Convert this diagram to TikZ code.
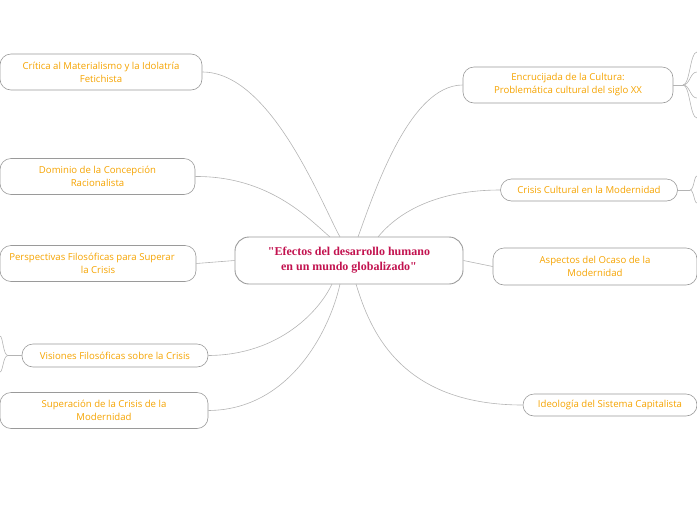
\documentclass[tikz,border=0pt]{standalone}
\usepackage{fontspec}
\setmainfont{Open Sans}
\newfontfamily\ctrfont{Liberation Serif}
\definecolor{orng}{HTML}{F5A300}
\definecolor{crim}{HTML}{C2124F}
\definecolor{bord}{HTML}{9A9A9A}
\definecolor{lnk}{HTML}{B4B4B4}
\begin{document}
\begin{tikzpicture}[x=1pt,y=-1pt,
  child/.style={draw=bord,rounded corners=11pt,font=\fontsize{9.6}{13}\selectfont,text=orng,align=center,line width=0.6pt,inner sep=0pt},
  link/.style={draw=lnk,line width=0.6pt}]
\useasboundingbox (0,0) rectangle (697,520);
\node[draw=bord,line width=0.9pt,rounded corners=14pt,minimum width=228pt,minimum height=47pt,align=center,font=\ctrfont\bfseries\fontsize{12}{15}\selectfont,text=crim] (c) at (349,260.5) {"Efectos del desarrollo humano\\en un mundo globalizado"};
\node[child,minimum width=202pt,minimum height=36pt] (a1) at (101,72) {Crítica al Materialismo y la Idolatría\\Fetichista};
\node[child,minimum width=195pt,minimum height=36pt] (a2) at (97.5,176.5) {Dominio de la Concepción\\Racionalista};
\node[child,minimum width=196pt,minimum height=36pt] (a3) at (98,263.5) {\hspace*{-12pt}Perspectivas Filosóficas para Superar\\la Crisis};
\node[child,minimum width=186pt,minimum height=23pt] (a4) at (115,355.5) {Visiones Filosóficas sobre la Crisis};
\node[child,minimum width=208pt,minimum height=36pt] (a5) at (104,410.5) {Superación de la Crisis de la\\Modernidad};
\node[child,minimum width=210pt,minimum height=36pt] (b1) at (568,85) {Encrucijada de la Cultura:\\Problemática cultural del siglo XX};
\node[child,minimum width=177pt,minimum height=22pt] (b2) at (589,190) {Crisis Cultural en la Modernidad};
\node[child,minimum width=204pt,minimum height=37pt] (b3) at (595,266.5) {Aspectos del Ocaso de la\\Modernidad};
\node[child,minimum width=174pt,minimum height=22pt] (b4) at (610,405) {Ideología del Sistema Capitalista};
\coordinate (t) at (340,237);
\coordinate (tr) at (358,237);
\coordinate (bt) at (340,284);
\coordinate (br) at (356,284);
\draw[link] (a1.east) .. controls (270,72) and (320,200) .. (t);
\draw[link] (a2.east) .. controls (270,176) and (310,220) .. (330,237);
\draw[link] (a3.east) -- (c.west);
\draw[link] (a4.east) .. controls (280,355) and (320,310) .. (332,284);
\draw[link] (a5.east) .. controls (290,410) and (330,330) .. (bt);
\draw[link] (b1.west) .. controls (410,85) and (375,190) .. (tr);
\draw[link] (b2.west) .. controls (440,190) and (400,210) .. (378,237);
\draw[link] (b3.west) -- (c.east);
\draw[link] (b4.west) .. controls (400,405) and (370,330) .. (br);
% stubs
\coordinate (s1) at (683,85);
\draw[link] (b1.east) -- (s1);
\foreach \y in {52,72,98,118} \draw[link] (s1) .. controls (690,85) and (690,\y) .. (697,\y);
\coordinate (s2) at (690,190);
\draw[link] (b2.east) -- (s2);
\foreach \y in {176,203} \draw[link] (s2) .. controls (694,190) and (694,\y) .. (697,\y);
\coordinate (s4) at (8,355.5);
\draw[link] (a4.west) -- (s4);
\foreach \y in {336,372} \draw[link] (s4) .. controls (3,355.5) and (3,\y) .. (0,\y);
\end{tikzpicture}
\end{document}
